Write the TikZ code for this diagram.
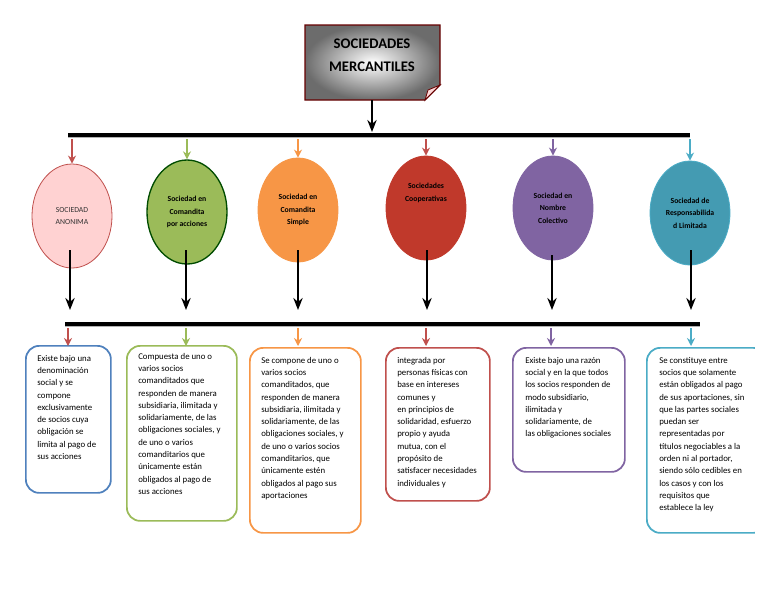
\documentclass[tikz,border=0pt]{standalone}
\usepackage{fontspec}
\setmainfont{Carlito}
\usetikzlibrary{shapes.geometric,arrows.meta,shadows}
\definecolor{cred}{HTML}{C0504D}
\definecolor{cgreen}{HTML}{9BBB59}
\definecolor{corange}{HTML}{F79646}
\definecolor{cpurple}{HTML}{8064A2}
\definecolor{ccyan}{HTML}{4BACC6}
\definecolor{cblue}{HTML}{4F81BD}
\definecolor{ccoop}{HTML}{C0392B}
\begin{document}
\begin{tikzpicture}[x=0.75pt,y=-0.75pt,
  circ/.style={ellipse,minimum width=80*0.75pt,minimum height=104*0.75pt,inner sep=0pt,align=center,font=\fontsize{5.8}{9.5}\selectfont\bfseries,draw,line width=0.6pt},
  box/.style={rounded corners=10pt,draw,line width=1.3pt},
  txt/.style={anchor=north west,align=left,inner sep=0pt,font=\fontsize{6.6}{9.2}\selectfont},
  carr/.style={-{Stealth[length=6pt,width=6pt]},line width=2pt},
  barr/.style={-{Stealth[length=9pt,width=7pt]},line width=1.6pt},
  bar/.style={line width=2.5pt,black}]
\useasboundingbox (0,0) rectangle (768,593);
\fill[white] (0,0) rectangle (768,593);
% title
\shade[inner color=white,outer color=gray!85!black,draw=red!40!black,line width=0.8pt]
  (305,25) -- (440,25) -- (440,85) -- (425,100) -- (305,100) -- cycle;
\fill[pink!60!white,draw=red!40!black,line width=0.6pt] (440,85) -- (425,100) -- (428,90) -- cycle;
\node[font=\fontsize{11}{17}\selectfont\bfseries,align=center] (title) at (372,55) {SOCIEDADES\\MERCANTILES};
\coordinate (tb) at (372,100);
\coordinate (tbar) at (372,132);
\draw[barr] (tb) -- (tbar);
\coordinate (b1l) at (68,135); \coordinate (b1r) at (690,135);
\draw[bar] (b1l) -- (b1r);
\draw[gray!60,line width=0.6pt] (68,137.5) -- (690,137.5);
% circles
\node[circ,fill=pink!70,draw=cred,text=black!80,font=\fontsize{5.8}{9.5}\selectfont] (c1) at (72,216) {SOCIEDAD\\ANONIMA};
\node[circ,fill=cgreen,draw=green!30!black,line width=1pt] (c2) at (187,212) {Sociedad en\\Comandita\\por acciones};
\node[circ,fill=corange,draw=corange] (c3) at (298,210) {Sociedad en\\Comandita\\Simple};
\node[circ,fill=ccoop,draw=ccoop] (c4) at (426,208) {Sociedades\\Cooperativas\\[14pt]};
\node[circ,fill=cpurple,draw=cpurple] (c5) at (553,208) {Sociedad en\\Nombre\\Colectivo};
\node[circ,fill=ccyan!90!black,draw=ccyan] (c6) at (690,213) {Sociedad de\\Responsabilida\\d Limitada};
% colored top arrows
\foreach \n/\x/\c in {1/72,2/187,3/298,4/426,5/553,6/690}{
  \coordinate (s\n) at (\x,139);
}
\foreach \n/\c in {1/cred,2/cgreen,3/corange,4/cred,5/cpurple,6/ccyan}{
  \draw[carr,\c] (s\n) -- (s\n |- c\n.north);
}
% black arrows
\foreach \n/\x/\y in {1/70/250,2/186/250,3/298/250,4/427/250,5/552/255,6/691/250}{
  \coordinate (u\n) at (\x,\y);
  \coordinate (d\n) at (\x,310);
  \draw[barr] (u\n) -- (d\n);
}
\draw[bar] (65,324) -- (700,324);
\draw[gray!60,line width=0.6pt] (65,326.5) -- (700,326.5);
% boxes
\node[box,draw=cblue,minimum width=85*0.75pt,minimum height=147*0.75pt,anchor=north west] (x1) at (25,345) {};
\node[box,draw=cgreen,minimum width=110*0.75pt,minimum height=175*0.75pt,anchor=north west] (x2) at (126,345) {};
\node[box,draw=corange,minimum width=111*0.75pt,minimum height=185*0.75pt,anchor=north west] (x3) at (249,347) {};
\node[box,draw=cred,minimum width=104*0.75pt,minimum height=153*0.75pt,anchor=north west] (x4) at (385,347) {};
\node[box,draw=cpurple,minimum width=112*0.75pt,minimum height=124*0.75pt,anchor=north west] (x5) at (512,347) {};
\node[box,draw=ccyan,minimum width=120*0.75pt,minimum height=185*0.75pt,anchor=north west] (x6) at (646,347) {};
\fill[white] (755,340) rectangle (768,593);
\foreach \n/\x/\c in {1/68/cred,2/186/cgreen,3/298/corange,4/426/cred,5/551/cpurple,6/691/ccyan}{
  \coordinate (e\n) at (\x,346);
  \draw[carr,\c] (\x,328) -- (e\n);
}
\node[txt] (t1) at (37,355) {Existe bajo una\\denominación\\social y se\\compone\\exclusivamente\\de socios cuya\\obligación se\\limita al pago de\\sus acciones};
\node[txt] (t2) at (138,353) {Compuesta de uno o\\varios socios\\comanditados que\\responden de manera\\subsidiaria, ilimitada y\\solidariamente, de las\\obligaciones sociales, y\\de uno o varios\\comanditarios que\\únicamente están\\obligados al pago de\\sus acciones};
\node[txt] (t3) at (261,357) {Se compone de uno o\\varios socios\\comanditados, que\\responden de manera\\subsidiaria, ilimitada y\\solidariamente, de las\\obligaciones sociales, y\\de uno o varios socios\\comanditarios, que\\únicamente estén\\obligados al pago sus\\aportaciones};
\node[txt] (t4) at (397,357) {integrada por\\personas físicas con\\base en intereses\\comunes y\\en principios de\\solidaridad, esfuerzo\\propio y ayuda\\mutua, con el\\propósito de\\satisfacer necesidades\\individuales y};
\node[txt] (t5) at (525,357) {Existe bajo una razón\\social y en la que todos\\los socios responden de\\modo subsidiario,\\ilimitada y\\solidariamente, de\\las obligaciones sociales};
\node[txt] (t6) at (659,357) {Se constituye entre\\socios que solamente\\están obligados al pago\\de sus aportaciones, sin\\que las partes sociales\\puedan ser\\representadas por\\títulos negociables a la\\orden ni al portador,\\siendo sólo cedibles en\\los casos y con los\\requisitos que\\establece la ley};
\end{tikzpicture}
\end{document}
